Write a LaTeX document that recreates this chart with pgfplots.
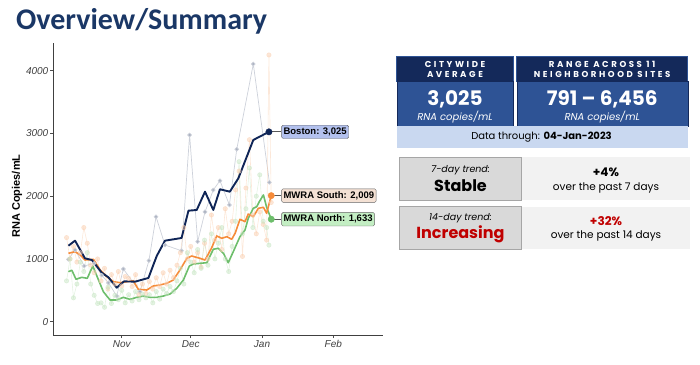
\documentclass[border=0pt]{standalone}
\usepackage{fontspec}
\setmainfont{Liberation Sans}
\newfontfamily\calfont{Carlito}
\newfontfamily\pop{Poppins}
\newfontfamily\popsp[LetterSpace=30]{Poppins}
\usepackage{pgfplots}
\pgfplotsset{compat=1.18}
\definecolor{titleblue}{RGB}{26,55,102}
\definecolor{navyL}{RGB}{15,37,87}
\definecolor{orS}{RGB}{246,140,58}
\definecolor{grN}{RGB}{109,190,107}
\definecolor{grayL}{RGB}{205,209,218}
\definecolor{grayM}{RGB}{172,179,194}
\definecolor{lightOr}{RGB}{250,208,178}
\definecolor{lightGr}{RGB}{196,228,192}
\definecolor{bosL}{RGB}{179,193,238}
\definecolor{souL}{RGB}{244,225,212}
\definecolor{norL}{RGB}{195,238,195}
\definecolor{hdr}{RGB}{20,41,90}
\definecolor{bodyb}{RGB}{46,83,149}
\definecolor{band}{RGB}{201,216,240}
\definecolor{tl}{RGB}{217,217,217}
\definecolor{tlb}{RGB}{166,166,166}
\definecolor{tr}{RGB}{242,242,242}
\definecolor{redt}{RGB}{192,0,0}
\begin{document}
\begin{tikzpicture}
\useasboundingbox (0pt,0pt) rectangle (700pt,364pt);
\node[anchor=base west, inner sep=0pt, font=\calfont\bfseries\fontsize{30}{30}\selectfont, text=titleblue] at (16pt,334pt) {Overview/Summary};
\node[rotate=90, font=\bfseries\fontsize{11}{12}\selectfont] at (17pt,168pt) {RNA Copies/mL};
\begin{axis}[at={(53pt,29pt)}, anchor=south west, scale only axis,
  width=330pt, height=292pt,
  xmin=-29.9, xmax=113.6, ymin=-212, ymax=4441,
  axis lines*=left, clip=false,
  xtick={0,30,61,92}, xticklabels={Nov,Dec,Jan,Feb},
  ytick={0,1000,2000,3000,4000},
  tick align=outside, major tick length=3pt,
  tick style={color=black!70, line width=0.6pt},
  axis line style={color=black!75, line width=0.8pt},
  ticklabel style={font=\itshape\fontsize{10}{12}\selectfont, text=black!75},
  /pgf/number format/assume math mode=true, /pgf/number format/1000 sep={},
  yticklabel style={inner sep=1.5pt}, xticklabel style={inner sep=2pt}]
% Boston raw
\addplot[color=grayL, line width=0.7pt, mark=*, mark size=1.9pt, mark options={fill=grayM, draw=none}] coordinates {
(-23.2,994)(-20.3,1143)(-16.3,888)(-12,930)(-8.7,740)(-5.8,620)(-2.2,410)(0.7,840)(7.9,478)(11.8,972)(14.9,1673)(18.8,1222)(26,1130)(29.5,2975)(33,1275)(36.2,1750)(39.8,2099)(42.7,2247)(46.8,1860)(50,2747)(57.2,4107)(64.2,2221)};
% MWRA South raw
\addplot[color=lightOr, opacity=0.5, line width=0.6pt, mark=*, mark size=2.2pt, mark options={fill=lightOr, draw=none}] coordinates {
(-24,1340)(-22.5,1000)(-21,1200)(-19.5,950)(-18,1100)(-16.5,1500)(-15,1250)(-13.5,900)(-12,780)(-10.5,1000)(-9,650)(-7.5,850)(-6,520)(-4.5,750)(-3,600)(-1.5,800)(0,570)(1.5,720)(3,690)(4.5,560)(6,750)(7.5,430)(9,600)(10.5,450)(12,640)(13.5,520)(15,700)(16.5,560)(18,780)(19.5,600)(21,820)(22.5,700)(24,900)(25.5,1100)(27,1500)(28.5,1000)(30,1200)(31.5,950)(33,1100)(34.5,870)(36,1250)(37.5,1000)(39,1700)(40.5,1300)(42,1500)(43.5,1150)(45,1800)(46.5,1400)(48,1600)(49.5,2100)(51,2400)(52.5,1040)(54,2130)(55.5,2900)(57,1700)(58.5,1400)(60,1750)(61.5,1550)(63,1300)(64,4250)(65,1900)};
% MWRA North raw
\addplot[color=lightGr, opacity=0.45, line width=0.6pt, mark=*, mark size=2.2pt, mark options={fill=lightGr, draw=none}] coordinates {
(-24,650)(-22.5,1000)(-21,380)(-19.5,600)(-18,950)(-16.5,800)(-15,1100)(-13.5,600)(-12,420)(-10.5,290)(-9,300)(-7.5,230)(-6,550)(-4.5,290)(-3,420)(-1.5,350)(0,500)(1.5,300)(3,430)(4.5,330)(6,480)(7.5,350)(9,440)(10.5,380)(12,430)(13.5,300)(15,480)(16.5,360)(18,520)(19.5,450)(21,560)(22.5,480)(24,650)(25.5,850)(27,600)(28.5,1100)(30,950)(31.5,780)(33,1150)(34.5,850)(36,1300)(37.5,900)(39,1400)(40.5,1000)(42,1250)(43.5,1500)(45,1000)(46.5,800)(48,1200)(49.5,1600)(51,2550)(52.5,1400)(54,1800)(55.5,2450)(57,1500)(58.5,2000)(60,2340)(61.5,1600)(63,1500)(64,1220)};
% MWRA North smoothed
\addplot[color=grN, line width=1.6pt, line join=round] coordinates {
(-23.2,797)(-21.7,820)(-19.9,676)(-17.4,707)(-15,691)(-12.6,888)(-10.1,664)(-8,478)(-5.1,346)(-2.2,346)(0.7,388)(3.6,356)(6.5,388)(9.4,409)(12.3,388)(15.2,388)(18.1,409)(21,441)(23.9,532)(26.8,664)(29.4,888)(31.1,920)(34,930)(37,940)(39.8,1154)(42,1170)(44.2,1090)(46.3,940)(48.5,1116)(51.4,1355)(53.6,1461)(55,1647)(57.2,1807)(58.7,1833)(59.8,1912)(61.6,2020)(63,1823)(65,1633)};
% MWRA South smoothed
\addplot[color=orS, line width=1.6pt, line join=round] coordinates {
(-23.2,1090)(-20.3,1116)(-18,1063)(-16,983)(-12.3,994)(-9.4,824)(-6.5,717)(-3.6,637)(-0.7,622)(2.2,637)(5,653)(7.2,516)(10.9,505)(13.7,569)(16.6,585)(19.6,612)(22.4,664)(25.3,824)(28.3,1010)(30.4,1047)(34,1010)(36.2,983)(39,1170)(41.3,1366)(43.5,1329)(45.7,1355)(47.8,1313)(49.3,1409)(51.4,1632)(53.6,1594)(55,1716)(57.2,1673)(59.4,1807)(61.6,1823)(63,1727)(65,2009)};
% Boston smoothed
\addplot[color=navyL, line width=1.9pt, line join=round] coordinates {
(-23.2,1211)(-20.3,1291)(-16,1010)(-13,983)(-8.7,781)(-5.8,707)(-2.2,542)(1,643)(5.8,638)(11.6,697)(15.2,1047)(18.8,1291)(26,1334)(29,1769)(32.6,1780)(36.2,2072)(39.8,1780)(42.7,2110)(47,2072)(50.7,2285)(57.2,2896)(64,3025)};
% connectors
\draw[black!65, line width=1pt] (axis cs:64,3025) -- (axis cs:69.4,3025);
\draw[black!65, line width=1pt] (axis cs:65,2009) -- (axis cs:69.4,2009);
\draw[black!65, line width=1pt] (axis cs:65,1633) -- (axis cs:69.4,1633);
% end markers
\addplot[only marks, mark=*, mark size=3.2pt, color=navyL] coordinates {(64,3025)};
\addplot[only marks, mark=*, mark size=3.2pt, color=orS] coordinates {(65,2009)};
\addplot[only marks, mark=*, mark size=3.2pt, color=grN] coordinates {(65,1633)};
\node[anchor=west, fill=bosL, draw=black!60, rounded corners=1.5pt, inner xsep=2pt, inner ysep=2.6pt, font=\bfseries\fontsize{9.5}{10}\selectfont] at (axis cs:69.4,3025) {Boston: 3,025};
\node[anchor=west, fill=souL, draw=black!60, rounded corners=1.5pt, inner xsep=2pt, inner ysep=2.6pt, font=\bfseries\fontsize{9.5}{10}\selectfont] at (axis cs:69.4,2009) {MWRA South: 2,009};
\node[anchor=west, fill=norL, draw=black!60, rounded corners=1.5pt, inner xsep=2pt, inner ysep=2.6pt, font=\bfseries\fontsize{9.5}{10}\selectfont] at (axis cs:69.4,1633) {MWRA North: 1,633};
\end{axis}
% right panel
\filldraw[fill=hdr, draw=bodyb, line width=0.6pt] (396.7pt,282.3pt) rectangle (513.3pt,307.3pt);
\filldraw[fill=bodyb, draw=hdr, line width=0.4pt] (396.7pt,238pt) rectangle (513.3pt,282.3pt);
\filldraw[fill=hdr, draw=bodyb, line width=0.6pt] (516.7pt,282.3pt) rectangle (687.7pt,307.3pt);
\filldraw[fill=bodyb, draw=hdr, line width=0.4pt] (516.7pt,238pt) rectangle (687.7pt,282.3pt);
\fill[band] (396.7pt,215.7pt) rectangle (687.7pt,238pt);
\node[text=white, align=center, font=\popsp\bfseries\fontsize{8.6}{10}\selectfont] at (455pt,295pt) {CITYWIDE\\AVERAGE};
\node[text=white, align=center, font=\popsp\bfseries\fontsize{8.6}{10}\selectfont] at (602.2pt,295pt) {RANGE ACROSS 11\\NEIGHBORHOOD SITES};
\node[text=white, font=\pop\bfseries\fontsize{20}{22}\selectfont] at (455pt,265pt) {3,025};
\node[text=white, font=\pop\bfseries\fontsize{20}{22}\selectfont] at (602.2pt,265pt) {791 – 6,456};
\node[text=white, font=\pop\itshape\fontsize{10}{12}\selectfont] at (455pt,247pt) {RNA copies/mL};
\node[text=white, font=\pop\itshape\fontsize{10}{12}\selectfont] at (602.2pt,247pt) {RNA copies/mL};
\node[font=\pop\fontsize{10}{12}\selectfont] at (541.5pt,226.5pt) {Data through: \textbf{04-Jan-2023}};
% trend rows
\fill[tr] (521.7pt,164pt) rectangle (690pt,206.7pt);
\filldraw[fill=tl, draw=tlb, line width=0.8pt] (399.3pt,164pt) rectangle (521.7pt,206.7pt);
\fill[tr] (521.7pt,114.7pt) rectangle (690pt,157.3pt);
\filldraw[fill=tl, draw=tlb, line width=0.8pt] (399.3pt,114.7pt) rectangle (521.7pt,157.3pt);
\node[font=\pop\itshape\fontsize{9.5}{11}\selectfont] at (460.5pt,193.3pt) {7-day trend:};
\node[font=\pop\bfseries\fontsize{16}{18}\selectfont] at (460.5pt,178pt) {Stable};
\node[font=\pop\bfseries\fontsize{12}{14}\selectfont] at (606pt,191.3pt) {+4\%};
\node[font=\pop\fontsize{10.5}{12}\selectfont] at (606pt,176pt) {over the past 7 days};
\node[font=\pop\itshape\fontsize{9.5}{11}\selectfont] at (460.5pt,145.7pt) {14-day trend:};
\node[font=\pop\bfseries\fontsize{16}{18}\selectfont, text=redt] at (460.5pt,130pt) {Increasing};
\node[font=\pop\bfseries\fontsize{12}{14}\selectfont, text=redt] at (606pt,143pt) {+32\%};
\node[font=\pop\fontsize{10.5}{12}\selectfont] at (606pt,128pt) {over the past 14 days};
\end{tikzpicture}
\end{document}
